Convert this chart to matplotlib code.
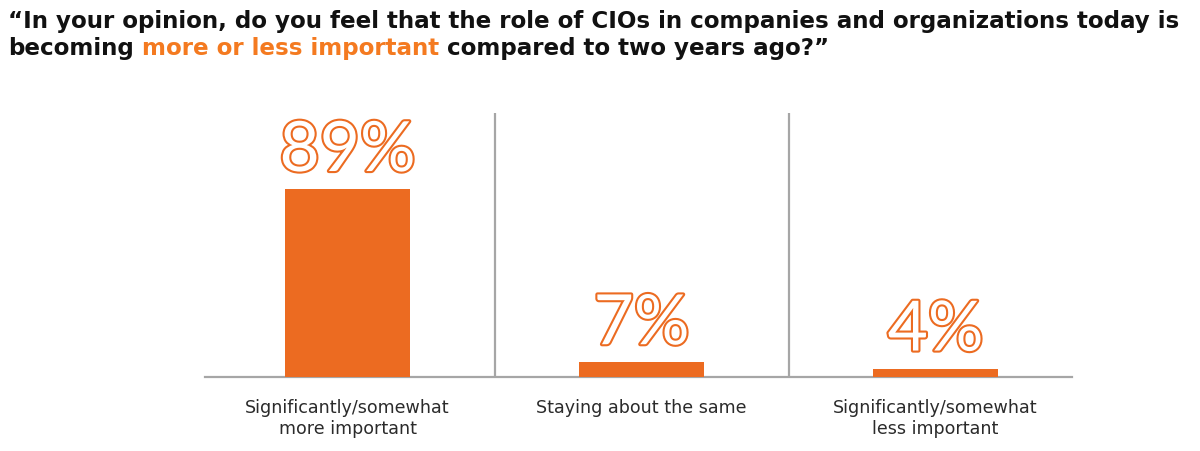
import matplotlib
matplotlib.use("Agg")
import matplotlib.pyplot as plt
import matplotlib.patheffects as pe
from matplotlib.text import Annotation

categories = ["Significantly/somewhat\nmore important", "Staying about the same",
              "Significantly/somewhat\nless important"]
values = [89, 7, 4]
value_labels = ["89%", "7%", "4%"]

title_line1 = "\u201cIn your opinion, do you feel that the role of CIOs in companies and organizations today is"
title_line2_parts = [("becoming", "#111111"), (" more or less important", "#F47A20"),
                     (" compared to two years ago?\u201d", "#111111")]

ORANGE = "#EC6B21"
GRAY = "#A6A6A6"
TEXT = "#2B2B2B"
TITLE_FONT = dict(fontsize=16.6, fontweight="bold", family="DejaVu Sans")

W, H = 1200, 452
fig = plt.figure(figsize=(12, 4.52), dpi=100)

ax = fig.add_axes([205 / W, (H - 378) / H, 867 / W, (378 - 114) / H])
x = list(range(len(values)))
ax.bar(x, values, width=0.425, color=ORANGE, zorder=3)
ax.set_xlim(-0.485, 2.464)
ax.set_ylim(0, 125)
for s in ["top", "left", "right"]:
    ax.spines[s].set_visible(False)
ax.spines["bottom"].set_color(GRAY)
ax.spines["bottom"].set_linewidth(1.6)
for sep in [0.5, 1.5]:
    ax.axvline(sep, color=GRAY, lw=1.6, zorder=1)
ax.set_yticks([])
ax.set_xticks(x)
ax.set_xticklabels(categories, fontsize=12.6, color=TEXT, family="DejaVu Sans",
                   linespacing=1.22, multialignment="center")
ax.tick_params(axis="x", length=0, pad=15)

for xi, v, lab in zip(x, values, value_labels):
    ax.annotate(lab, (xi, v), xytext=(0, 18), textcoords="offset pixels",
                ha="center", va="baseline", fontsize=50, family="Lato",
                color="white", zorder=4,
                path_effects=[pe.withStroke(linewidth=3, foreground=ORANGE)])

fig.text(8 / W, 1 - 28 / H, title_line1, color="#111111", va="baseline",
         ha="left", **TITLE_FONT)

prev = None
for txt, col in title_line2_parts:
    if prev is None:
        prev = fig.text(8 / W, 1 - 55 / H, txt, color=col, va="baseline",
                        ha="left", **TITLE_FONT)
    else:
        prev = fig.add_artist(Annotation(txt, xy=(1, 0), xycoords=prev,
                                         va="bottom", ha="left", color=col,
                                         **TITLE_FONT))

fig.savefig("out.png", dpi=100)
